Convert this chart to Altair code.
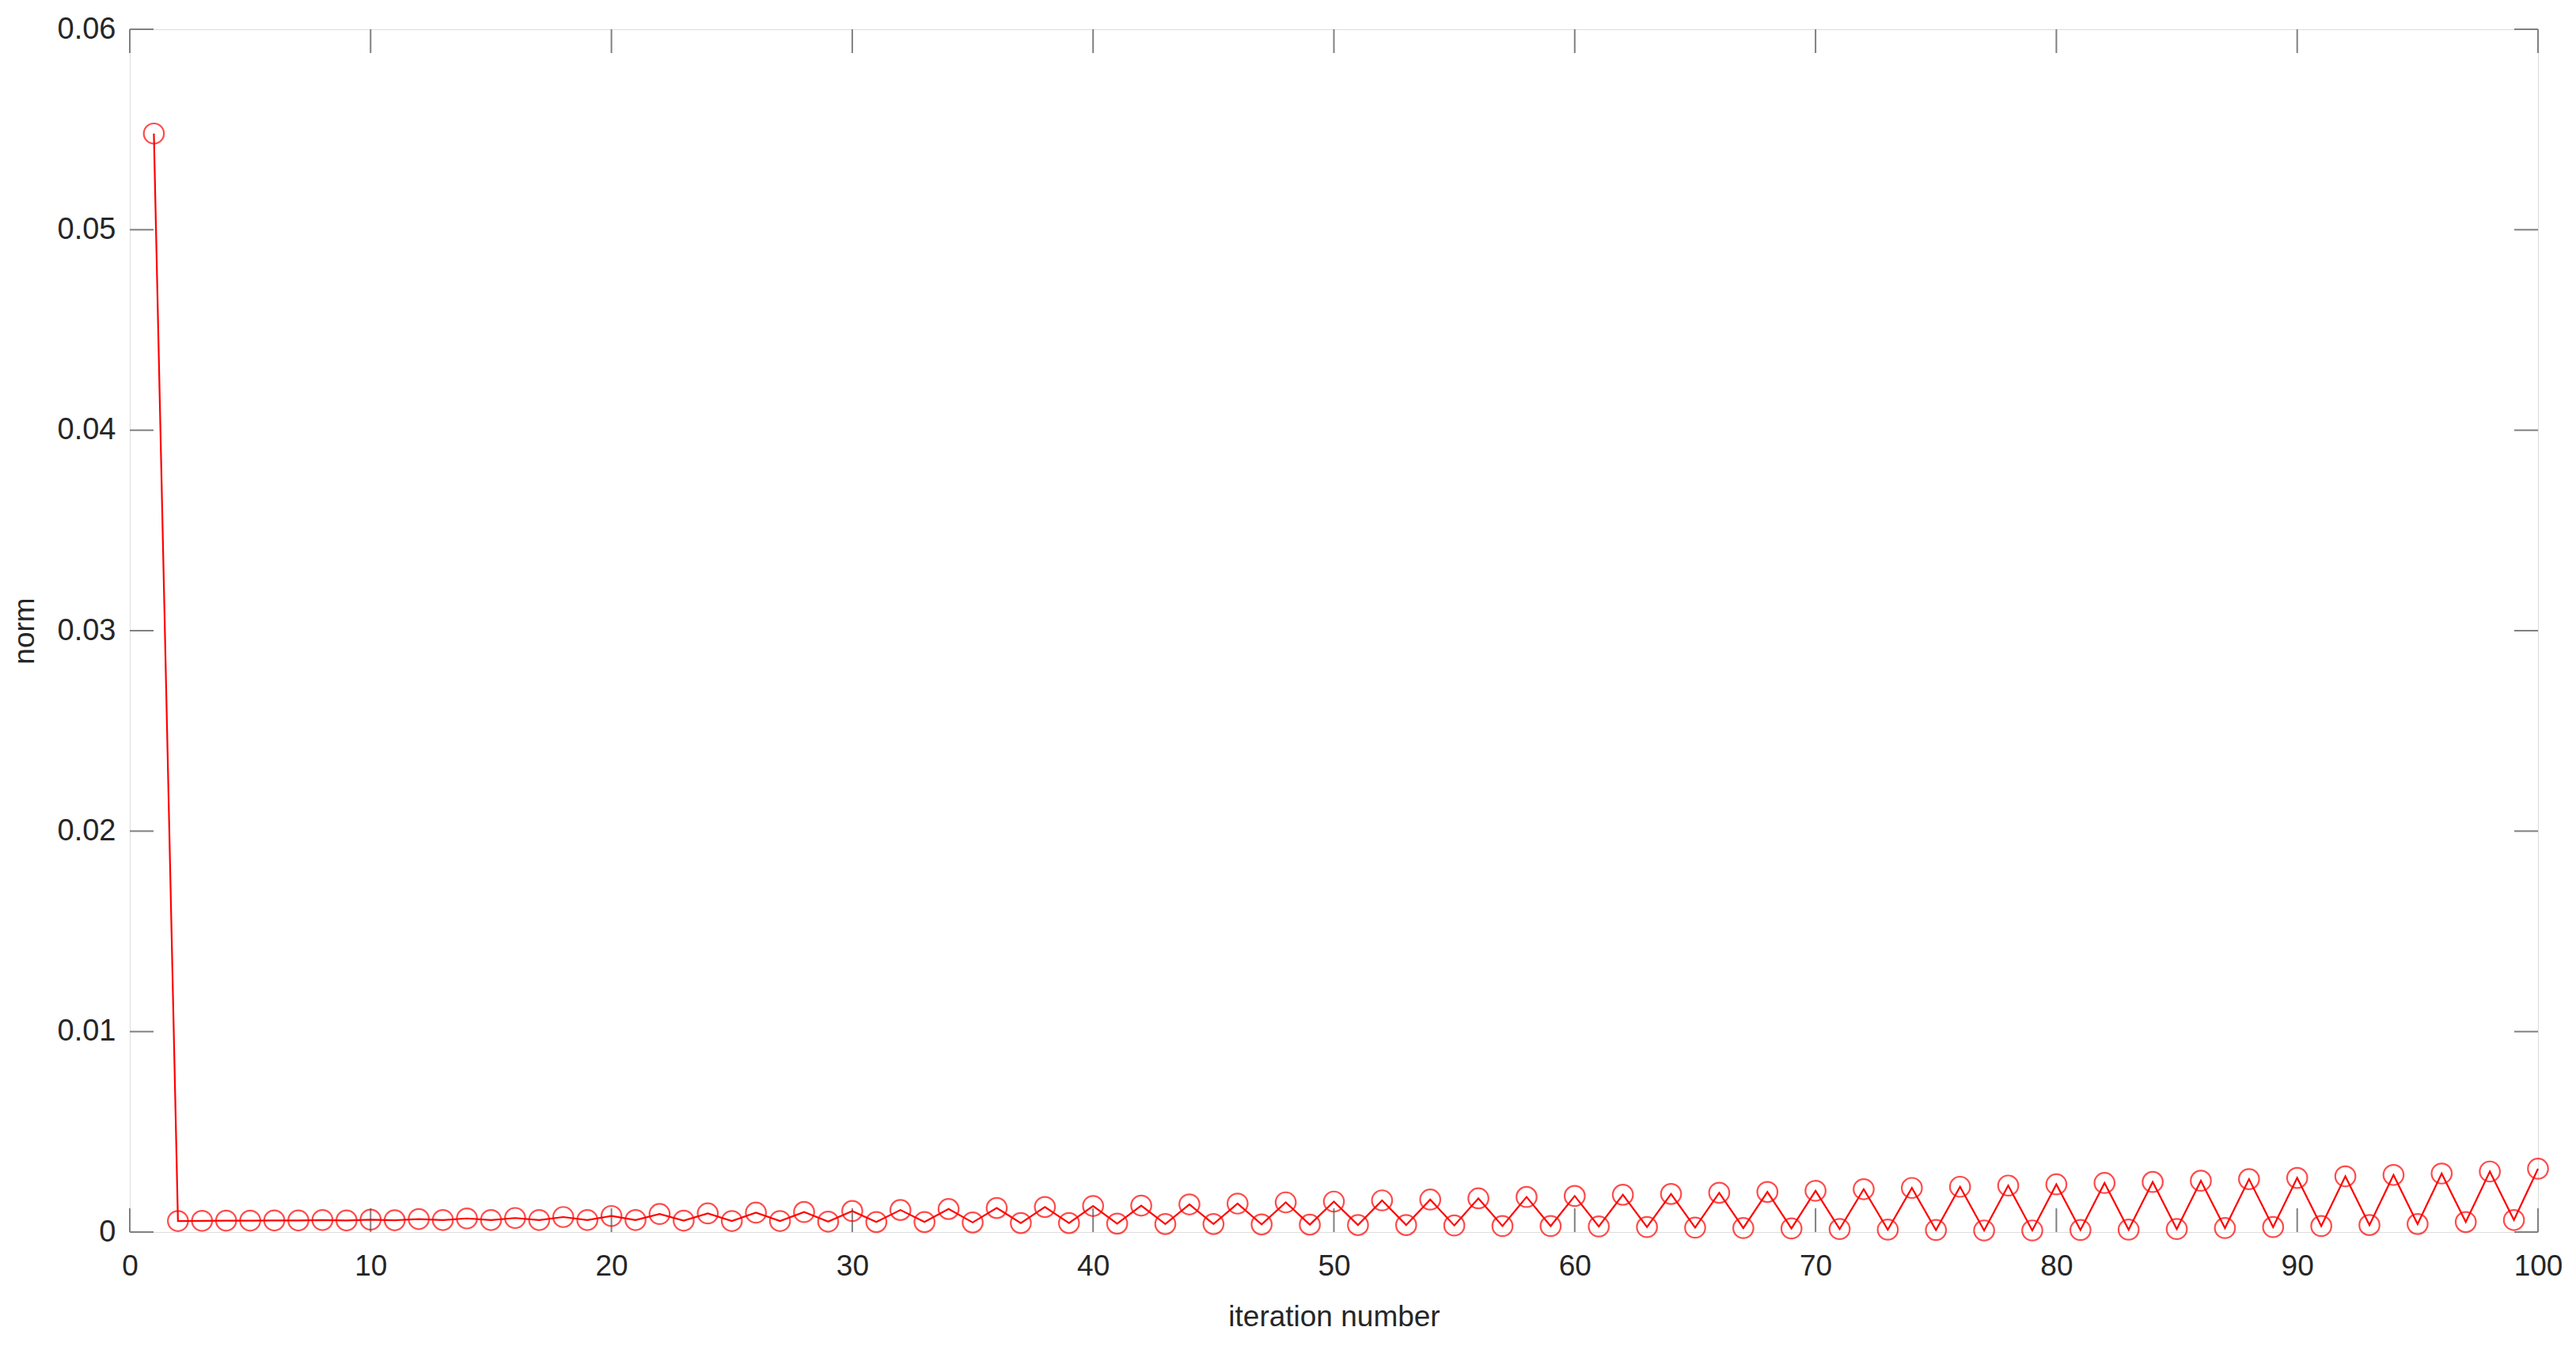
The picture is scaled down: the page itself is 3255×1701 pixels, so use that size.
import altair as alt
import pandas as pd

iterations = list(range(1, 101))
norm_values = [
    0.0548, 0.00055, 0.00056, 0.00057, 0.00057, 0.00058, 0.00058, 0.00060, 0.00058, 0.00062,
    0.00059, 0.00065, 0.00060, 0.00068, 0.00060, 0.00070, 0.00060, 0.00075, 0.00060, 0.00080,
    0.00060, 0.00090, 0.00057, 0.00093, 0.00055, 0.00097, 0.00055, 0.00100, 0.00052, 0.00105,
    0.00050, 0.00110, 0.00050, 0.00115, 0.00048, 0.00120, 0.00045, 0.00125, 0.00045, 0.00130,
    0.00042, 0.00132, 0.00040, 0.00138, 0.00040, 0.00142, 0.00038, 0.00148, 0.00037, 0.00152,
    0.00035, 0.00158, 0.00035, 0.00162, 0.00033, 0.00168, 0.00030, 0.00175, 0.00030, 0.00180,
    0.00028, 0.00186, 0.00025, 0.00190, 0.00022, 0.00196, 0.00020, 0.00200, 0.00018, 0.00206,
    0.00015, 0.00214, 0.00012, 0.00220, 0.00010, 0.00226, 0.00008, 0.00232, 0.00008, 0.00238,
    0.00010, 0.00245, 0.00012, 0.00250, 0.00015, 0.00256, 0.00020, 0.00264, 0.00025, 0.00270,
    0.00030, 0.00278, 0.00035, 0.00285, 0.00040, 0.00292, 0.00050, 0.00302, 0.00060, 0.00316,
]
x_ticks = [0, 10, 20, 30, 40, 50, 60, 70, 80, 90, 100]
y_ticks = [0, 0.01, 0.02, 0.03, 0.04, 0.05, 0.06]

W, H = 3043, 1520
TICK = 30
FONT = "Liberation Sans"
TEXT = "#262626"
BOX = "#808080"

df = pd.DataFrame({"iter": iterations, "norm": norm_values})
xt = pd.DataFrame({"xt": x_ticks})
yt = pd.DataFrame({"yt": y_ticks})

xscale = alt.Scale(domain=[0, 100], nice=False, zero=False)
yscale = alt.Scale(domain=[0, 0.06], nice=False, zero=False)

xaxis = alt.Axis(values=x_ticks, format="d", title="iteration number", grid=False,
                 ticks=False, domain=False, labelFontSize=37, labelFont=FONT,
                 labelColor=TEXT, labelPadding=25, titleFontSize=37, titleFont=FONT,
                 titleColor=TEXT, titleFontWeight="normal", titleBaseline="alphabetic",
                 titleY=118, labelFlush=False)
yaxis = alt.Axis(values=y_ticks, title="norm", grid=False, ticks=False, domain=False,
                 labelExpr="datum.value == 0 ? '0' : format(datum.value, '.2f')",
                 labelFontSize=38, labelFont=FONT, labelColor=TEXT, labelPadding=18,
                 titleFontSize=37, titleFont=FONT, titleColor=TEXT,
                 titleFontWeight="normal", titleBaseline="alphabetic", titleX=-122,
                 labelFlush=False)

line = alt.Chart(df).mark_line(color="#FF0000", strokeWidth=2.2, clip=False).encode(
    x=alt.X("iter:Q", scale=xscale, axis=xaxis),
    y=alt.Y("norm:Q", scale=yscale, axis=yaxis),
)
points = alt.Chart(df).mark_point(shape="circle", filled=False, color="#FF0000",
                                  size=650, strokeWidth=2.2, clip=False).encode(
    x=alt.X("iter:Q", scale=xscale),
    y=alt.Y("norm:Q", scale=yscale),
)

tick_style = dict(color=BOX, strokeWidth=2)
bottom_ticks = alt.Chart(xt).mark_rule(**tick_style).encode(
    x=alt.X("xt:Q", scale=xscale), y=alt.value(H), y2=alt.value(H - TICK))
top_ticks = alt.Chart(xt).mark_rule(**tick_style).encode(
    x=alt.X("xt:Q", scale=xscale), y=alt.value(0), y2=alt.value(TICK))
left_ticks = alt.Chart(yt).mark_rule(**tick_style).encode(
    y=alt.Y("yt:Q", scale=yscale), x=alt.value(0), x2=alt.value(TICK))
right_ticks = alt.Chart(yt).mark_rule(**tick_style).encode(
    y=alt.Y("yt:Q", scale=yscale), x=alt.value(W), x2=alt.value(W - TICK))

chart = alt.layer(bottom_ticks, top_ticks, left_ticks, right_ticks, line, points).properties(
    width=W, height=H,
    autosize=alt.AutoSizeParams(type="none"),
    padding={"left": 156, "top": 29, "right": 30, "bottom": 136},
).configure_view(stroke=BOX, strokeWidth=2).configure(background="white")

chart.save("out.html", embed_options={"renderer": "svg", "actions": False})
